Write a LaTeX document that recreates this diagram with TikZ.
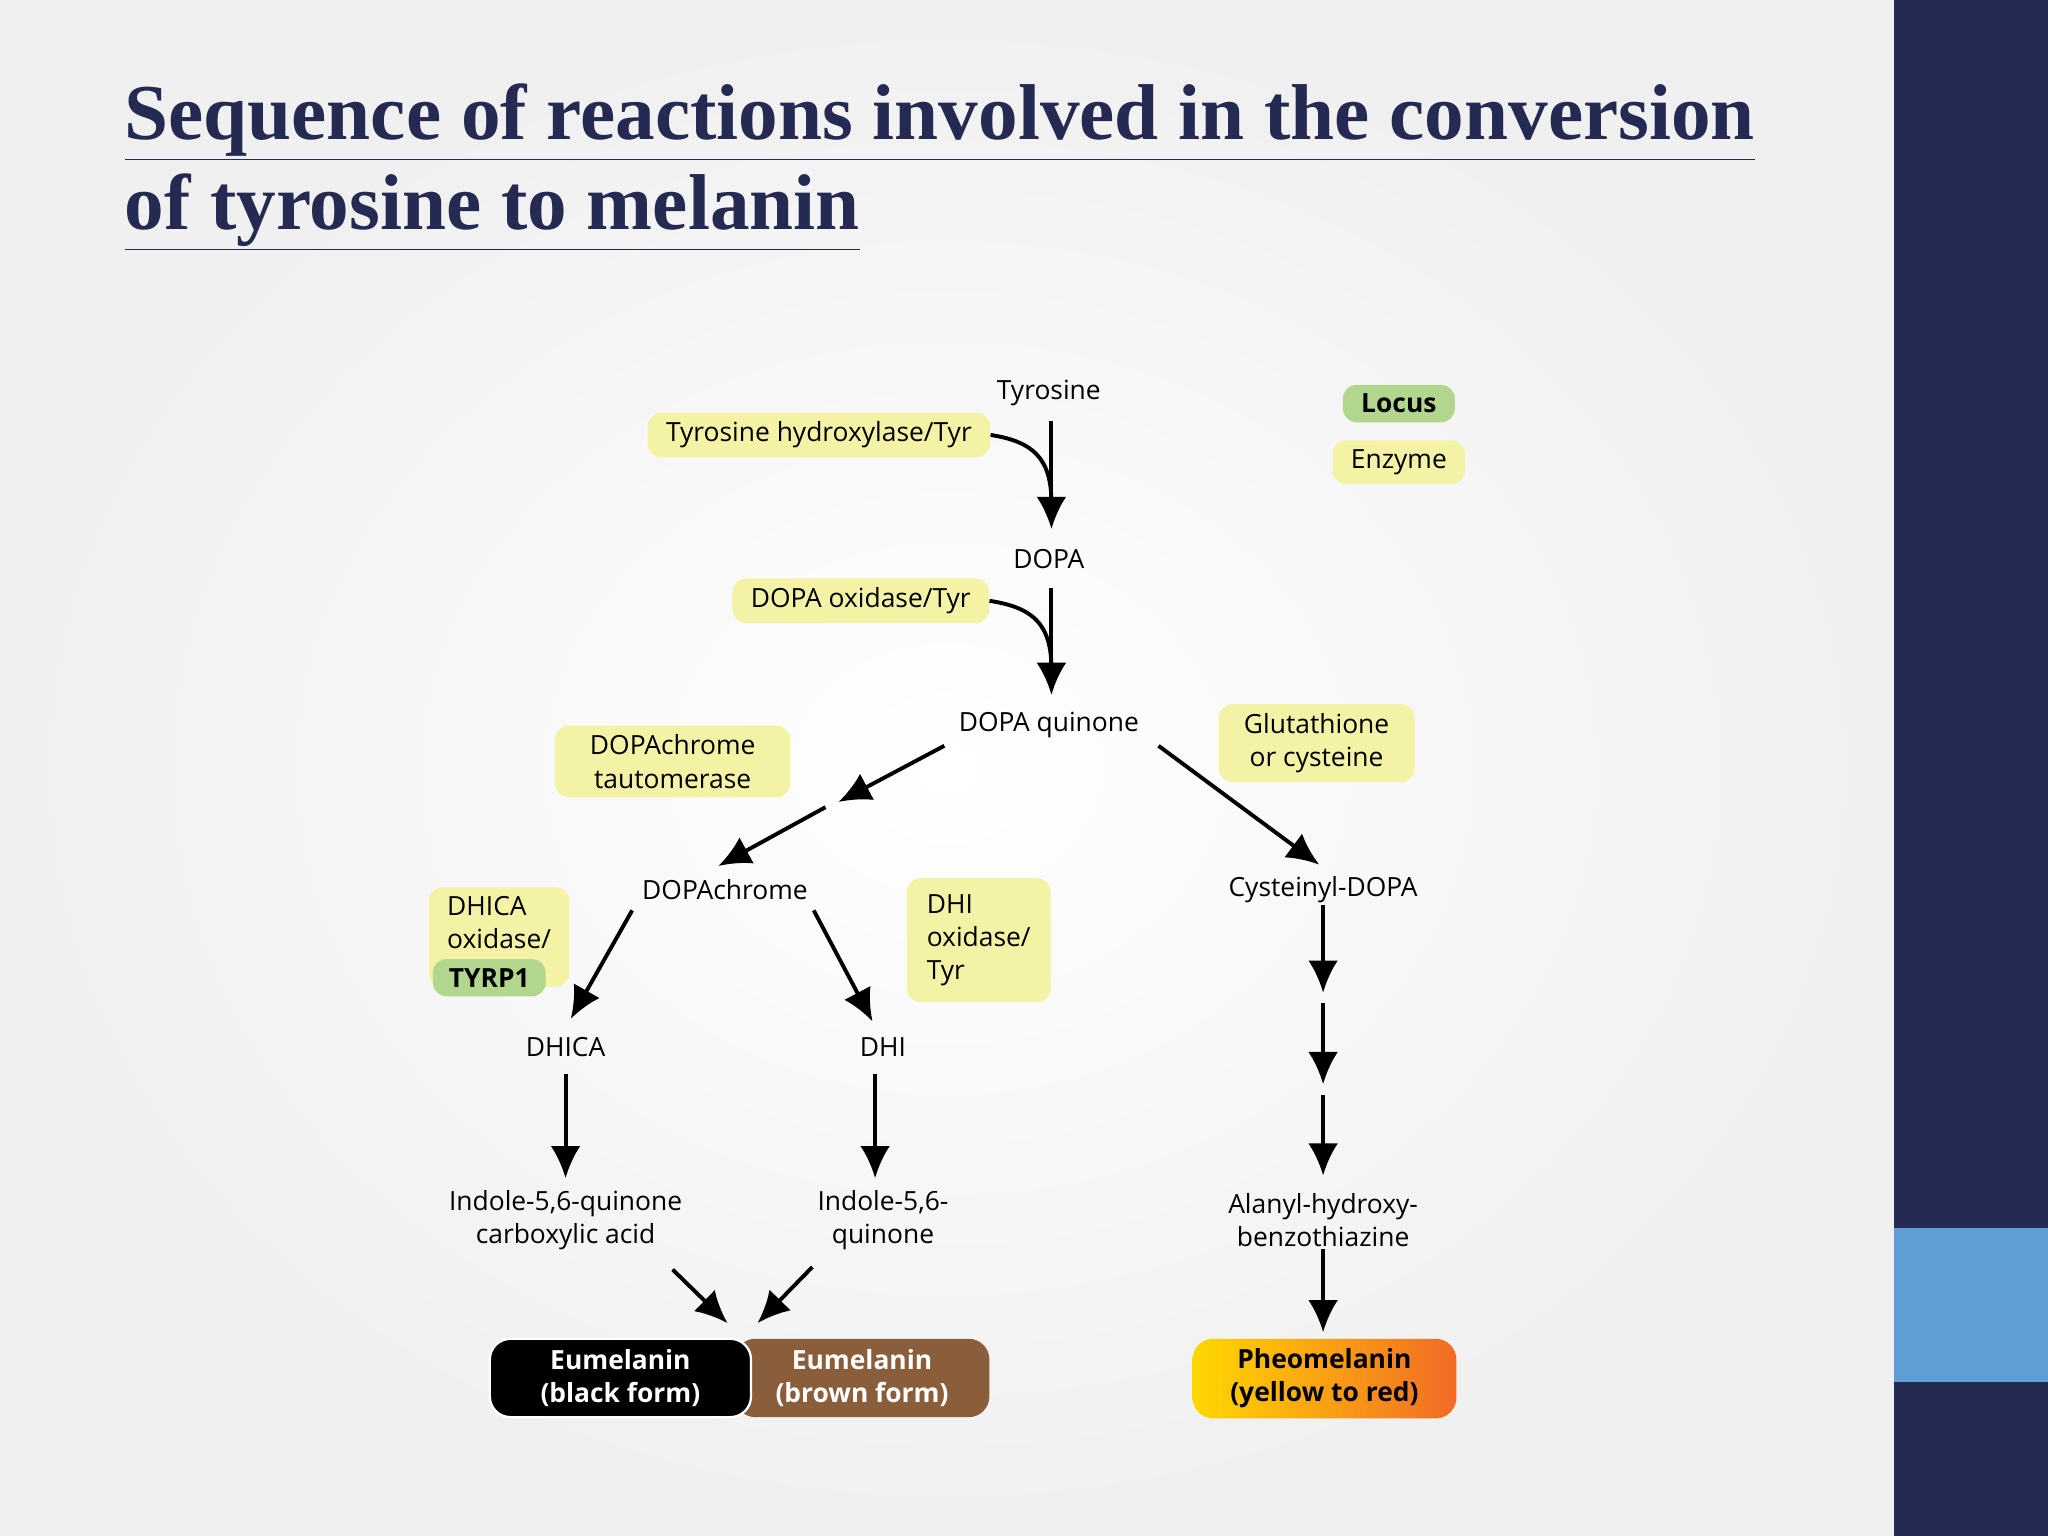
\documentclass[tikz,border=0pt]{standalone}
\usepackage{fontspec}
\setmainfont{Open Sans}
\newfontfamily\titlefont{Liberation Serif}
\usetikzlibrary{calc,shadings,arrows.meta}
\definecolor{navy}{HTML}{252A52}
\definecolor{sideblue}{HTML}{5F9ED6}
\definecolor{enzyme}{HTML}{F4F2A4}
\definecolor{locus}{HTML}{B3D68E}
\definecolor{brownmel}{HTML}{8A5E3B}
\definecolor{pheoA}{HTML}{FFD800}
\definecolor{pheoB}{HTML}{F26A26}
\tikzset{
  lbl/.style={font=\fontsize{11.5}{14.5}\selectfont,align=center,inner sep=1pt},
  enz/.style={lbl,fill=enzyme,rounded corners=6pt,inner xsep=8pt,inner ysep=4pt},
  loc/.style={enz,fill=locus,font=\fontsize{11.5}{14.5}\selectfont\bfseries},
  mel/.style={lbl,font=\fontsize{11.5}{14.5}\selectfont\bfseries,rounded corners=9pt,minimum width=4cm,minimum height=1.2cm,text=white},
  rx/.style={->,line width=1.7pt,>={Latex[length=14pt,width=13pt]}},
  feed/.style={line width=1.7pt}
}
\begin{document}
\begin{tikzpicture}[x=0.02cm,y=-0.02cm]
% Background and side bar
\useasboundingbox (0,0) rectangle (1568,1176);
\shade[inner color=white,outer color=gray!12] (0,0) rectangle (1450,1176);
\fill[navy] (1450,0) rectangle (1568,1176);
\fill[sideblue] (1450,940) rectangle (1568,1058);

% Title
\node[anchor=north west,inner sep=0pt,text=navy,align=left,font=\titlefont\fontsize{34.5}{37}\selectfont\bfseries] (title) at (95,64)
  {\underline{Sequence of reactions involved in the conversion}\\[2pt]\underline{of tyrosine to melanin}};

% Legend
\node[loc] (locus) at (1071,309) {Locus};
\node[enz] (enzkey) at (1071,354) {Enzyme};

% Main chain
\node[lbl] (tyr) at (803,301) {Tyrosine};
\node[enz] (th) at (627,333) {Tyrosine hydroxylase/Tyr};
\node[lbl] (dopa) at (803,428) {DOPA};
\node[enz] (dox) at (659,460) {DOPA oxidase/Tyr};
\node[lbl] (dq) at (803,555) {DOPA quinone};
\draw[rx] (805,322) -- (805,405);
\draw[feed] (th.east) .. controls (790,338) and (805,350) .. (805,385);
\draw[rx] (805,450) -- (805,532);
\draw[feed] (dox.east) .. controls (790,465) and (805,477) .. (805,512);

% Eumelanin branch
\node[enz,minimum width=3.6cm] (dct) at (515,583) {DOPAchrome\\tautomerase};
\node[lbl] (dc) at (555,681) {DOPAchrome};
\coordinate (mid1) at (642,614);
\coordinate (mid2) at (632,618);
\draw[rx] (723,571) -- (mid1);
\draw[rx] (mid2) -- (550,663);
\node[enz,align=left,minimum width=2.1cm,minimum height=1.3cm,anchor=north west] (dhicaox) at (328,679) {DHICA\\oxidase/\\[-2pt]};
\node[loc,anchor=north west,inner xsep=7pt] (tyrp) at (331,734) {TYRP1};
\node[enz,align=left,minimum width=2.2cm,minimum height=1.9cm,anchor=north west] (dhiox) at (694,672) {DHI\\oxidase/\\Tyr};
\node[lbl] (dhica) at (433,802) {DHICA};
\node[lbl] (dhi) at (676,802) {DHI};
\draw[rx] (484,697) -- (437,780);
\draw[rx] (623,697) -- (668,782);
\node[lbl] (iqca) at (433,934) {Indole-5,6-quinone\\carboxylic acid};
\node[lbl] (iq) at (676,934) {Indole-5,6-\\quinone};
\draw[rx] (433,822) -- (433,902);
\draw[rx] (670,822) -- (670,902);
\node[mel,fill=brownmel,minimum width=3.9cm] (brown) at (660,1055) {Eumelanin\\(brown form)};
\node[mel,fill=black,draw=white,line width=1pt] (black) at (475,1055) {Eumelanin\\(black form)};
\draw[rx] (515,972) -- (557,1013);
\draw[rx] (622,970) -- (580,1013);

% Pheomelanin branch
\node[enz,minimum width=3cm] (glu) at (1008,569) {Glutathione\\or cysteine};
\node[lbl] (cys) at (1013,681) {Cysteinyl-DOPA};
\draw[rx] (887,571) -- (1010,662);
\coordinate (s1) at (1013,768);
\coordinate (s2) at (1013,838);
\draw[rx] (cys.south) -- (1013,760);
\draw[rx] (s1) -- (1013,830);
\draw[rx] (s2) -- (1013,900);
\node[lbl] (ahb) at (1013,934) {Alanyl-hydroxy-\\benzothiazine};
\shade[left color=pheoA,right color=pheoB,rounded corners=9pt] (913,1025) rectangle (1115,1086);
\node[lbl,font=\fontsize{11.5}{14.5}\selectfont\bfseries] (pheo) at (1014,1055) {Pheomelanin\\(yellow to red)};
\draw[rx] (ahb.south) -- (1013,1020);
\end{tikzpicture}
\end{document}
